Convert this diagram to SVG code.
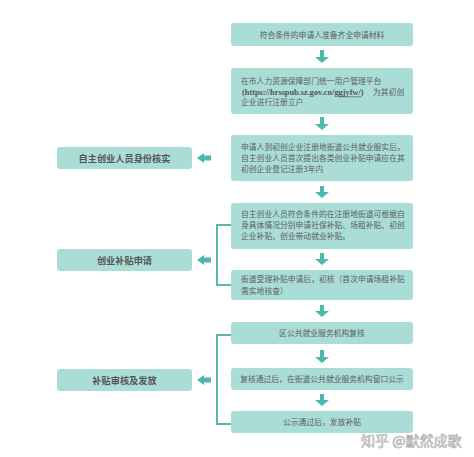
<svg xmlns="http://www.w3.org/2000/svg" width="474" height="457" viewBox="0 0 474 457">
<style>
.box{fill:#a9ddd6}
.t{font-family:"Noto Sans CJK SC","Noto Sans",sans-serif;font-size:7.8px;fill:#606060}
.c{text-anchor:middle}
.lt{font-family:"Noto Sans CJK SC","Noto Sans",sans-serif;font-size:9.2px;font-weight:bold;fill:#555;text-anchor:middle}
.url{font-family:"Liberation Serif",serif;font-weight:bold;fill:#555;font-size:8.3px}
.arr{fill:#4fb8ad}
.br{fill:none;stroke:#5bb7ad;stroke-width:2}
</style>
<rect width="474" height="457" fill="#fff"/>
<g id="connectors">
<path class="arr" d="M320,50h4v7h5l-7,6l-7,-6h5z"/>
<path class="arr" d="M320,117h4v7h5l-7,6l-7,-6h5z"/>
<path class="arr" d="M320,186h4v6h5l-7,6l-7,-6h5z"/>
<path class="arr" d="M320,253h4v6h5l-7,6l-7,-6h5z"/>
<path class="arr" d="M320,305h4v6h5l-7,6l-7,-6h5z"/>
<path class="arr" d="M320,350h4v7h5l-7,6l-7,-6h5z"/>
<path class="arr" d="M320,394h4v6h5l-7,6l-7,-6h5z"/>
<path class="arr" d="M197,158l7,-5v2.5h7v5h-7v2.5z"/>
<path class="arr" d="M197,260l7,-5v2.5h7v5h-7v2.5z"/>
<path class="arr" d="M197,380l7,-5v2.5h7v5h-7v2.5z"/>
<path class="br" d="M231,225H217V285H231"/>
<path class="br" d="M231,335H217V424H231"/>
</g>
<g id="n1"><rect class="box" x="231" y="23" width="182" height="23" rx="3"/><text class="t c" x="322" y="37.5">符合条件的申请人准备齐全申请材料</text></g>
<g id="n2"><rect class="box" x="231" y="68" width="182" height="46" rx="3"/>
<text class="t" x="241" y="84">在市人力资源保障部门统一用户管理平台</text>
<text class="url" x="242" y="95">(https://hrsspub.sz.gov.cn/ggjyfw/)</text>
<line x1="339" y1="96.8" x2="361" y2="96.8" stroke="#555" stroke-width="0.7"/>
<text class="t" x="373" y="95">为其初创</text>
<text class="t" x="241" y="105">企业进行注册立户</text></g>
<g id="n3"><rect class="box" x="231" y="135" width="182" height="46" rx="3"/>
<text class="t" x="241" y="150">申请人到初创企业注册地街道公共就业服实后，</text>
<text class="t" x="241" y="161">自主创业人员首次提出各类创业补贴申请应在其</text>
<text class="t" x="241" y="172">初创企业登记注册3年内</text></g>
<g id="n4"><rect class="box" x="231" y="203" width="182" height="46" rx="3"/>
<text class="t" x="241" y="217">自主创业人员符合条件的在注册地街道可根据自</text>
<text class="t" x="241" y="228">身具体情况分别申请社保补贴、场租补贴、初创</text>
<text class="t" x="241" y="239">企业补贴、创业带动就业补贴。</text></g>
<g id="n5"><rect class="box" x="231" y="270" width="182" height="30" rx="3"/>
<text class="t" x="241" y="282">街道受理补贴申请后，初核（首次申请场租补贴</text>
<text class="t" x="241" y="294">需实地核查）</text></g>
<g id="n6"><rect class="box" x="231" y="322" width="182" height="22" rx="3"/><text class="t c" x="322" y="336">区公共就业服务机构复核</text></g>
<g id="n7"><rect class="box" x="231" y="368" width="182" height="22" rx="3"/><text class="t c" x="322" y="382">复核通过后，在街道公共就业服务机构窗口公示</text></g>
<g id="n8"><rect class="box" x="231" y="411" width="182" height="22" rx="3"/><text class="t c" x="322" y="425">公示通过后，发放补贴</text></g>
<g id="l1"><rect class="box" x="57" y="147" width="135" height="22" rx="3"/><text class="lt" x="124.5" y="161.5">自主创业人员身份核实</text></g>
<g id="l2"><rect class="box" x="57" y="249" width="135" height="22" rx="3"/><text class="lt" x="124.5" y="263.5">创业补贴申请</text></g>
<g id="l3"><rect class="box" x="57" y="369" width="135" height="22" rx="3"/><text class="lt" x="124.5" y="383.5">补贴审核及发放</text></g>
<text x="361" y="446" font-family="Noto Sans CJK SC,sans-serif" font-size="14" fill="#fff" stroke="#b0b0b0" stroke-width="0.7">知乎 @默然成歌</text>
</svg>
